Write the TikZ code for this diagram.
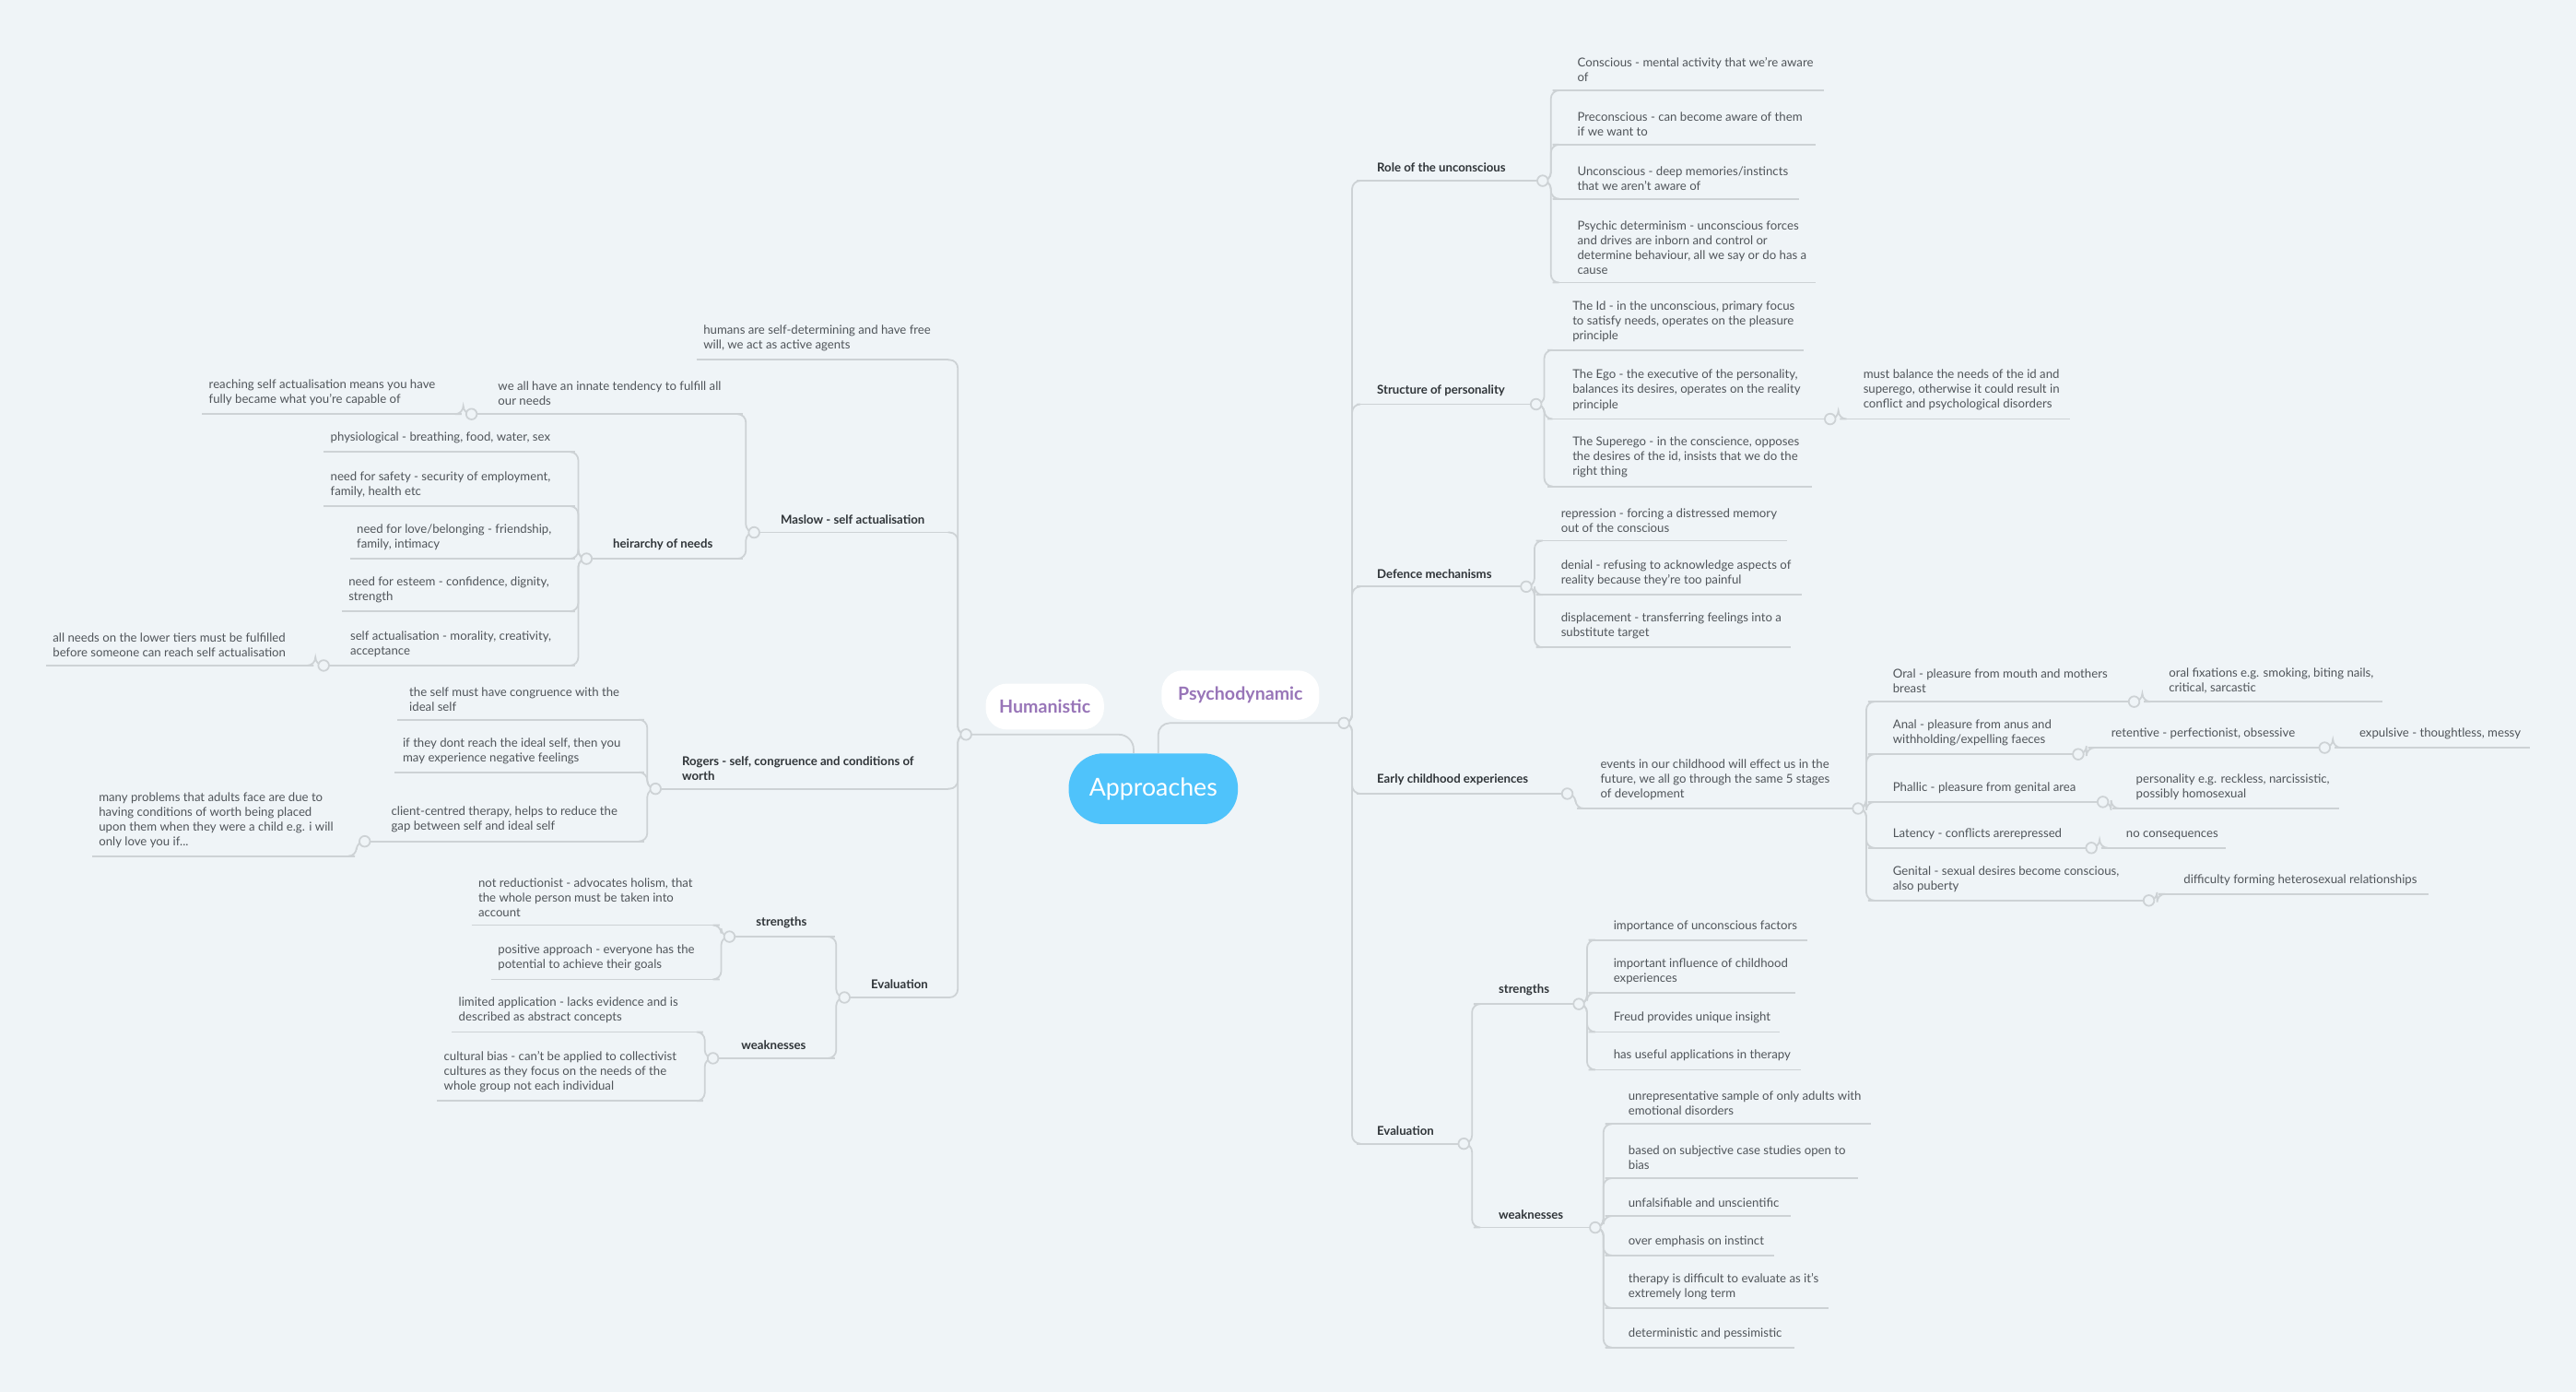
\documentclass[tikz,border=0pt]{standalone}
\usepackage{fontspec}
\setmainfont{Lato}
\usetikzlibrary{calc}
\definecolor{bg}{HTML}{EFF4F7}
\definecolor{lc}{HTML}{CDD2D5}
\definecolor{tc}{HTML}{50555A}
\definecolor{bc}{HTML}{2F3438}
\definecolor{pur}{HTML}{9875B8}
\definecolor{blu}{HTML}{4FC3FB}
\tikzset{
 ln/.style={draw=lc,line width=1pt},
 txt/.style={inner sep=0pt,align=left,text=tc,font=\fontsize{7.4}{9}\selectfont},
 bld/.style={text=bc,font=\fontsize{7.4}{9}\selectfont\bfseries},
 jn/.style={circle,draw=lc,line width=1pt,fill=bg,minimum size=6.5pt,inner sep=0pt},
 bub/.style={rounded corners=13pt,fill=white,text=pur,font=\fontsize{11}{13}\selectfont\bfseries,inner sep=0pt}
}
\newcommand\leaf[7][]{\node[txt,#1,anchor=south west] (#2) at (#3,{#4-5}) {#7}; \coordinate (#2-a) at (#5,#4); \coordinate (#2-b) at (#6,#4); \draw[ln] (#2-a)--(#2-b);}
\newcommand\cR[2]{\draw[ln,rounded corners=5pt] let \p1=(#1),\p2=(#2) in (#1) -| (\x1+5pt,\y2) -- (#2);}
\newcommand\cL[2]{\draw[ln,rounded corners=5pt] let \p1=(#1),\p2=(#2) in (#1) -| (\x1-5pt,\y2) -- (#2);}
\begin{document}
\begin{tikzpicture}[x=1pt,y=-1pt]
\fill[bg] (0,0) rectangle (1568,847);
\useasboundingbox (0,0) rectangle (1568,847);
% ---------- right side ----------
\coordinate (P) at (818,440);
\leaf[bld]{ru}{838}{110}{826}{939}{Role of the unconscious}
\leaf{ru1}{960}{55}{945}{1110}{Conscious - mental activity that we're aware\\of}
\leaf{ru2}{960}{88}{945}{1105}{Preconscious - can become aware of them\\if we want to}
\leaf{ru3}{960}{121}{945}{1095}{Unconscious - deep memories/instincts\\that we aren't aware of}
\leaf{ru4}{960}{172}{945}{1105}{Psychic determinism - unconscious forces\\and drives are inborn and control or\\determine behaviour, all we say or do has a\\cause}
\leaf[bld]{sp}{838}{246}{826}{935}{Structure of personality}
\leaf{sp1}{957}{213}{942}{1098}{The Id - in the unconscious, primary focus\\to satisfy needs, operates on the pleasure\\principle}
\leaf{sp2}{957}{255}{942}{1114}{The Ego - the executive of the personality,\\balances its desires, operates on the reality\\principle}
\leaf{sp2a}{1134}{255}{1120}{1260}{must balance the needs of the id and\\superego, otherwise it could result in\\conflict and psychological disorders}
\leaf{sp3}{957}{296}{942}{1103}{The Superego - in the conscience, opposes\\the desires of the id, insists that we do the\\right thing}
\leaf[bld]{dm}{838}{357}{826}{929}{Defence mechanisms}
\leaf{dm1}{950}{329}{935}{1088}{repression - forcing a distressed memory\\out of the conscious}
\leaf{dm2}{950}{362}{935}{1097}{denial - refusing to acknowledge aspects of\\reality because they're too painful}
\leaf{dm3}{950}{394}{935}{1090}{displacement - transferring feelings into a\\substitute target}
\leaf[bld]{ec}{838}{483}{826}{954}{Early childhood experiences}
\leaf{ev}{974}{492}{960}{1131}{events in our childhood will effect us in the\\future, we all go through the same 5 stages\\of development}
\leaf{or}{1152}{427}{1137}{1299}{Oral - pleasure from mouth and mothers\\breast}
\leaf{ora}{1320}{427}{1305}{1450}{oral fixations e.g. smoking, biting nails,\\critical, sarcastic}
\leaf{an}{1152}{459}{1137}{1265}{Anal - pleasure from anus and\\withholding/expelling faeces}
\leaf{ana}{1285}{455}{1271}{1415}{retentive - perfectionist, obsessive}
\leaf{anb}{1436}{455}{1421}{1540}{expulsive - thoughtless, messy}
\leaf{ph}{1152}{488}{1137}{1280}{Phallic - pleasure from genital area}
\leaf{pha}{1300}{492}{1286}{1424}{personality e.g. reckless, narcissistic,\\possibly homosexual}
\leaf{la}{1152}{516}{1137}{1273}{Latency - conflicts arerepressed}
\leaf{laa}{1294}{516}{1279}{1355}{no consequences}
\leaf{ge}{1152}{548}{1137}{1308}{Genital - sexual desires become conscious,\\also puberty}
\leaf{gea}{1329}{544}{1314}{1478}{difficulty forming heterosexual relationships}
\leaf[bld]{pe}{838}{696}{826}{891}{Evaluation}
\leaf[bld]{ps}{912}{611}{897}{961}{strengths}
\leaf{ps1}{982}{572}{967}{1100}{importance of unconscious factors}
\leaf{ps2}{982}{604}{967}{1093}{important influence of childhood\\experiences}
\leaf{ps3}{982}{628}{967}{1083}{Freud provides unique insight}
\leaf{ps4}{982}{651}{967}{1096}{has useful applications in therapy}
\leaf[bld]{pw}{912}{747}{897}{971}{weaknesses}
\leaf{pw1}{991}{684}{977}{1139}{unrepresentative sample of only adults with\\emotional disorders}
\leaf{pw2}{991}{717}{977}{1131}{based on subjective case studies open to\\bias}
\leaf{pw3}{991}{740}{977}{1090}{unfalsifiable and unscientific}
\leaf{pw4}{991}{764}{977}{1080}{over emphasis on instinct}
\leaf{pw5}{991}{796}{977}{1113}{therapy is difficult to evaluate as it's\\extremely long term}
\leaf{pw6}{991}{820}{977}{1092}{deterministic and pessimistic}
\foreach \c in {ru,sp,dm,ec,pe} {\cR{P}{\c-a}}
\foreach \c in {ru1,ru2,ru3,ru4} {\cR{ru-b}{\c-a}}
\foreach \c in {sp1,sp2,sp3} {\cR{sp-b}{\c-a}}
\cR{sp2-b}{sp2a-a}
\foreach \c in {dm1,dm2,dm3} {\cR{dm-b}{\c-a}}
\cR{ec-b}{ev-a}
\foreach \c in {or,an,ph,la,ge} {\cR{ev-b}{\c-a}}
\cR{or-b}{ora-a}\cR{an-b}{ana-a}\cR{ana-b}{anb-a}\cR{ph-b}{pha-a}\cR{la-b}{laa-a}\cR{ge-b}{gea-a}
\cR{pe-b}{ps-a}\cR{pe-b}{pw-a}
\foreach \c in {ps1,ps2,ps3,ps4} {\cR{ps-b}{\c-a}}
\foreach \c in {pw1,pw2,pw3,pw4,pw5,pw6} {\cR{pw-b}{\c-a}}
% ---------- left side ----------
\coordinate (H) at (588,447);
\leaf{hu}{428}{219}{424}{577}{humans are self-determining and have free\\will, we act as active agents}
\leaf[bld]{ma}{475}{324}{459}{577}{Maslow - self actualisation}
\leaf{ma1}{303}{252}{287}{452}{we all have an innate tendency to fulfill all\\our needs}
\leaf{ma1a}{127}{252}{123}{281}{reaching self actualisation means you have\\fully became what you're capable of}
\leaf[bld]{hn}{373}{340}{357}{452}{heirarchy of needs}
\leaf{hn1}{201}{275}{197}{350}{physiological - breathing, food, water, sex}
\leaf{hn2}{201}{308}{197}{350}{need for safety - security of employment,\\family, health etc}
\leaf{hn3}{217}{340}{213}{350}{need for love/belonging - friendship,\\family, intimacy}
\leaf{hn4}{212}{372}{208}{350}{need for esteem - confidence, dignity,\\strength}
\leaf{hn5}{213}{405}{197}{350}{self actualisation - morality, creativity,\\acceptance}
\leaf{hn5a}{32}{405}{28}{191}{all needs on the lower tiers must be fulfilled\\before someone can reach self actualisation}
\leaf[bld]{ro}{415}{480}{399}{577}{Rogers - self, congruence and conditions of\\worth}
\leaf{ro1}{249}{438}{242}{392}{the self must have congruence with the\\ideal self}
\leaf{ro2}{245}{470}{240}{392}{if they dont reach the ideal self, then you\\may experience negative feelings}
\leaf{ro3}{238}{512}{222}{392}{client-centred therapy, helps to reduce the\\gap between self and ideal self}
\leaf{ro3a}{60}{521}{56}{216}{many problems that adults face are due to\\having conditions of worth being placed\\upon them when they were a child e.g. i will\\only love you if...}
\leaf[bld]{he}{530}{607}{514}{577}{Evaluation}
\leaf[bld]{hs}{460}{570}{444}{508}{strengths}
\leaf{hs1}{291}{563}{287}{438}{not reductionist - advocates holism, that\\the whole person must be taken into\\account}
\leaf{hs2}{303}{596}{299}{438}{positive approach - everyone has the\\potential to achieve their goals}
\leaf[bld]{hw}{451}{644}{434}{508}{weaknesses}
\leaf{hw1}{279}{628}{275}{428}{limited application - lacks evidence and is\\described as abstract concepts}
\leaf{hw2}{270}{670}{266}{428}{cultural bias - can't be applied to collectivist\\cultures as they focus on the needs of the\\whole group not each individual}
\foreach \c in {hu,ma,ro,he} {\cL{H}{\c-b}}
\cL{ma-a}{ma1-b}\cL{ma-a}{hn-b}\cL{ma1-a}{ma1a-b}
\foreach \c in {hn1,hn2,hn3,hn4,hn5} {\cL{hn-a}{\c-b}}
\cL{hn5-a}{hn5a-b}
\foreach \c in {ro1,ro2,ro3} {\cL{ro-a}{\c-b}}
\cL{ro3-a}{ro3a-b}
\cL{he-a}{hs-b}\cL{he-a}{hw-b}
\cL{hs-a}{hs1-b}\cL{hs-a}{hs2-b}\cL{hw-a}{hw1-b}\cL{hw-a}{hw2-b}
% ---------- centre ----------
\node[fill=blu,rounded corners=21pt,minimum width=103pt,minimum height=43pt,text=white,font=\fontsize{15}{17}\selectfont] (ap) at (702,480) {Approaches};
\draw[ln,rounded corners=7pt] ([xshift=3pt]ap.north) |- (P);
\draw[ln,rounded corners=9pt] ([xshift=-12pt]ap.north) |- (H);
\node[bub,minimum width=72pt,minimum height=28pt] (hum) at (636,430) {Humanistic};
\node[bub,minimum width=96pt,minimum height=30pt] (psy) at (755,423) {Psychodynamic};
% junctions
\foreach \j in {P,ru-b,sp-b,sp2-b,dm-b,ec-b,ev-b,or-b,an-b,ana-b,ph-b,la-b,ge-b,pe-b,ps-b,pw-b,H,ma-a,ma1-a,hn-a,hn5-a,ro-a,ro3-a,he-a,hs-a,hw-a} {\node[jn] at (\j) {};}
\end{tikzpicture}
\end{document}
